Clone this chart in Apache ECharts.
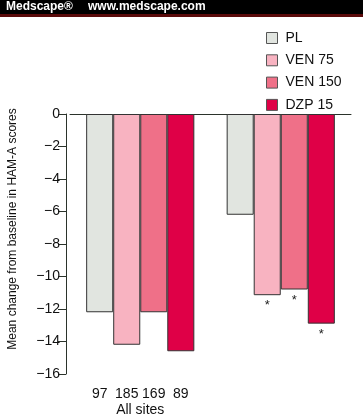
<!DOCTYPE html>
<html><head><meta charset="utf-8">
<script src="https://cdn.jsdelivr.net/npm/echarts@6/dist/echarts.min.js"></script>
<style>html,body{margin:0;padding:0;background:#fff}#c{width:363px;height:417px}</style>
</head><body><div id="c"></div>
<script>
const categories = ['All sites', "'Verum-sensitive' sites"];
const seriesNames = ['PL', 'VEN 75', 'VEN 150', 'DZP 15'];
const PL = [-12.2, -6.2];
const VEN75 = [-14.2, -11.15];
const VEN150 = [-12.2, -10.8];
const DZP15 = [-14.6, -12.9];
const nAll = [97, 185, 169, 89];
const nVerum = [35, 70, 61, 38];
const stars = [[false, false], [false, true], [false, true], [false, true]];
const yTicks = [0, -2, -4, -6, -8, -10, -12, -14, -16];

const colors = ['#e1e5e0', '#f8b3c1', '#ef7088', '#df0047'];
const values = [PL, VEN75, VEN150, DZP15];
const nByCat = [nAll, nVerum];

const chart = echarts.init(document.getElementById('c'), null, {renderer: 'canvas'});
const font = 'Liberation Sans, Arial, sans-serif';

const series = seriesNames.map((name, i) => ({
  name, type: 'bar', xAxisIndex: 0, barGap: '0%', barCategoryGap: '23%',
  itemStyle: {color: colors[i], borderColor: '#333', borderWidth: 1},
  data: values[i].map((v, j) => ({
    value: v,
    label: {show: stars[i][j], formatter: '*', position: 'bottom', distance: 4,
            color: '#222', fontSize: 13, fontFamily: font}
  }))
}));

chart.setOption({
  animation: false,
  backgroundColor: '#fff',
  textStyle: {fontFamily: font},
  grid: {left: 70, right: 12, top: 114, bottom: 41, containLabel: false},
  legend: {
    data: seriesNames, orient: 'vertical', left: 261, top: 26,
    itemWidth: 11, itemHeight: 11, itemGap: 8.3,
    icon: 'rect',
    itemStyle: {borderColor: '#555', borderWidth: 1},
    textStyle: {fontSize: 14, color: '#111', fontFamily: font, padding: [0, 0, 0, 3]},
    selectedMode: false
  },
  xAxis: [{
    type: 'category', data: categories, position: 'bottom',
    axisLine: {show: false, onZero: false}, axisTick: {show: false},
    axisLabel: {
      margin: 13,
      formatter: (val, idx) => nByCat[idx].map(n => '{n|' + n + '}').join('') + '\n{c|' + val + '}',
      rich: {
        n: {width: 27, align: 'center', fontSize: 14, color: '#111', fontFamily: font, lineHeight: 15},
        c: {fontSize: 14, color: '#111', fontFamily: font, lineHeight: 16, align: 'center'}
      }
    }
  }, {
    type: 'category', data: categories, position: 'top',
    axisLine: {show: true, onZero: false, lineStyle: {color: '#2b332b', width: 1}},
    axisTick: {show: false}, axisLabel: {show: false}
  }],
  yAxis: {
    type: 'value', min: -16, max: 0, interval: 2, offset: 4,
    axisLine: {show: true, lineStyle: {color: '#2b332b', width: 1}},
    axisTick: {show: true, length: 8, lineStyle: {color: '#2b332b'}},
    splitLine: {show: false},
    axisLabel: {margin: 6, fontSize: 14, color: '#111', fontFamily: font,
      formatter: v => yTicks.includes(v) ? (v < 0 ? '\u2212' + Math.abs(v) : String(v)) : ''}
  },
  graphic: [
    {type: 'rect', shape: {x: 0, y: 0, width: 363, height: 14}, style: {fill: '#000'}},
    {type: 'rect', shape: {x: 0, y: 14, width: 363, height: 3}, style: {fill: '#5a0a0a'}},
    {type: 'text', left: 6, top: 1, style: {text: 'Medscape\u00ae', fill: '#fff', font: 'bold 12px ' + font}},
    {type: 'text', left: 88, top: 1, style: {text: 'www.medscape.com', fill: '#fff', font: 'bold 12px ' + font}},
    {type: 'text', x: 13, y: 229, rotation: Math.PI / 2,
     style: {text: 'Mean change from baseline in HAM-A scores', fill: '#111', font: '12px ' + font,
             align: 'center', verticalAlign: 'middle'}}
  ],
  series
});
</script></body></html>
